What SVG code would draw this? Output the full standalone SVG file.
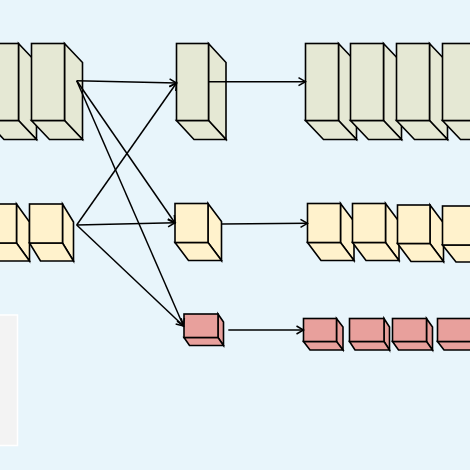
<svg xmlns="http://www.w3.org/2000/svg" width="470" height="470" viewBox="0 0 470 470">
<defs>
<style>
.b{stroke:#000;stroke-width:1.6;stroke-linejoin:miter}
.g{fill:#e5e8d4}
.y{fill:#fff2cc}
.r{fill:#e8a09c}
.c{fill:none;stroke:#000;stroke-width:1.5;marker-end:url(#ah)}
</style>
<marker id="ah" markerUnits="userSpaceOnUse" markerWidth="12" markerHeight="12" refX="8" refY="5" orient="auto">
<path d="M1,1 L8,5 L1,9" fill="none" stroke="#000" stroke-width="1.5"/>
</marker>
</defs>
<rect x="0" y="0" width="470" height="470" fill="#e8f5fb"/>
<g id="panel"><rect x="-3" y="315" width="20.5" height="130.5" fill="#f3f3f3" stroke="#ffffff" stroke-width="1.5"/></g>

<g id="row1-left-a" class="b g">
<polygon points="18.5,43.5 36.5,62.5 36.5,139.5 18.5,120.5"/>
<polygon points="-14,120.5 18.5,120.5 36.5,139.5 4,139.5"/>
<rect x="-14" y="43.5" width="32.5" height="77"/>
</g>
<g id="row1-left-b" class="b g">
<polygon points="64.5,43.5 82.5,62.5 82.5,139.5 64.5,120.5"/>
<polygon points="31.5,120.5 64.5,120.5 82.5,139.5 49.5,139.5"/>
<rect x="31.5" y="43.5" width="33" height="77"/>
</g>
<g id="row1-mid" class="b g">
<polygon points="208.5,43.5 226,62.5 226,139.5 208.5,120.5"/>
<polygon points="176.5,120.5 208.5,120.5 226,139.5 194,139.5"/>
<rect x="176.5" y="43.5" width="32" height="77"/>
</g>
<g id="row1-right-a" class="b g">
<polygon points="338.5,43.5 356.5,62.5 356.5,139.5 338.5,120.5"/>
<polygon points="305.5,120.5 338.5,120.5 356.5,139.5 323.5,139.5"/>
<rect x="305.5" y="43.5" width="33" height="77"/>
</g>
<g id="row1-right-b" class="b g">
<polygon points="383.5,43.5 401.5,62.5 401.5,139.5 383.5,120.5"/>
<polygon points="350.5,120.5 383.5,120.5 401.5,139.5 368.5,139.5"/>
<rect x="350.5" y="43.5" width="33" height="77"/>
</g>
<g id="row1-right-c" class="b g">
<polygon points="429.5,43.5 447.5,62.5 447.5,139.5 429.5,120.5"/>
<polygon points="396.5,120.5 429.5,120.5 447.5,139.5 414.5,139.5"/>
<rect x="396.5" y="43.5" width="33" height="77"/>
</g>
<g id="row1-right-d" class="b g">
<polygon points="475.5,43.5 493.5,62.5 493.5,139.5 475.5,120.5"/>
<polygon points="442.5,120.5 475.5,120.5 493.5,139.5 460.5,139.5"/>
<rect x="442.5" y="43.5" width="33" height="77"/>
</g>

<g id="row2-left-a" class="b y">
<polygon points="16.5,204 29.5,222 29.5,261 16.5,243"/>
<polygon points="-16.5,243 16.5,243 29.5,261 -3.5,261"/>
<rect x="-16.5" y="204" width="33" height="39"/>
</g>
<g id="row2-left-b" class="b y">
<polygon points="62.5,204 73.5,222 73.5,261 62.5,243"/>
<polygon points="29.5,243 62.5,243 73.5,261 40.5,261"/>
<rect x="29.5" y="204" width="33" height="39"/>
</g>
<g id="row2-mid" class="b y">
<polygon points="208,203.5 221.5,221.5 221.5,260.5 208,242.5"/>
<polygon points="175,242.5 208,242.5 221.5,260.5 188.5,260.5"/>
<rect x="175" y="203.5" width="33" height="39"/>
</g>
<g id="row2-right-a" class="b y">
<polygon points="340.5,203.5 354,221.5 354,260.5 340.5,242.5"/>
<polygon points="307.5,242.5 340.5,242.5 354,260.5 321,260.5"/>
<rect x="307.5" y="203.5" width="33" height="39"/>
</g>
<g id="row2-right-b" class="b y">
<polygon points="385.5,203.5 399,221.5 399,260.5 385.5,242.5"/>
<polygon points="352.5,242.5 385.5,242.5 399,260.5 366,260.5"/>
<rect x="352.5" y="203.5" width="33" height="39"/>
</g>
<g id="row2-right-c" class="b y">
<polygon points="430,205 443.5,223 443.5,261.5 430,243.5"/>
<polygon points="397.5,243.5 430,243.5 443.5,261.5 411,261.5"/>
<rect x="397.5" y="205" width="32.5" height="38.5"/>
</g>
<g id="row2-right-d" class="b y">
<polygon points="475.5,206 489,224 489,262 475.5,245"/>
<polygon points="442.5,245 475.5,245 489,262 456,262"/>
<rect x="442.5" y="206" width="33" height="39"/>
</g>

<g id="row3-mid" class="b r">
<polygon points="218,314 223.5,322 223.5,345.5 218,337.5"/>
<polygon points="184,337.5 218,337.5 223.5,345.5 189.5,345.5"/>
<rect x="184" y="314" width="34" height="23.5"/>
</g>
<g id="row3-right-a" class="b r">
<polygon points="336.5,318.5 343,327 343,350 336.5,341.5"/>
<polygon points="303.5,341.5 336.5,341.5 343,350 310,350"/>
<rect x="303.5" y="318.5" width="33" height="23"/>
</g>
<g id="row3-right-b" class="b r">
<polygon points="384,318.5 389.5,327 389.5,350 384,341.5"/>
<polygon points="349.5,341.5 384,341.5 389.5,350 355,350"/>
<rect x="349.5" y="318.5" width="34.5" height="23"/>
</g>
<g id="row3-right-c" class="b r">
<polygon points="426.5,318.5 432.5,327 432.5,350 426.5,341.5"/>
<polygon points="392.5,341.5 426.5,341.5 432.5,350 398.5,350"/>
<rect x="392.5" y="318.5" width="34" height="23"/>
</g>
<g id="row3-right-d" class="b r">
<polygon points="471.5,318.5 478,327 478,350 471.5,341.5"/>
<polygon points="437.5,341.5 471.5,341.5 478,350 444,350"/>
<rect x="437.5" y="318.5" width="34" height="23"/>
</g>

<g id="connectors">
<path class="c" d="M76.7,80.7 L176.5,83"/>
<path class="c" d="M76.7,80.7 L175,223"/>
<path class="c" d="M76.7,80.7 L183.5,326"/>
<path class="c" d="M76.7,225 L176.5,83"/>
<path class="c" d="M76.7,225 L175,222.7"/>
<path class="c" d="M76.7,225 L183.5,326"/>
<path class="c" d="M208.5,81.7 L305.5,81.7"/>
<path class="c" d="M221.5,224 L307.5,223.3"/>
<path class="c" d="M228.3,330 L303.5,330"/>
</g>
</svg>
